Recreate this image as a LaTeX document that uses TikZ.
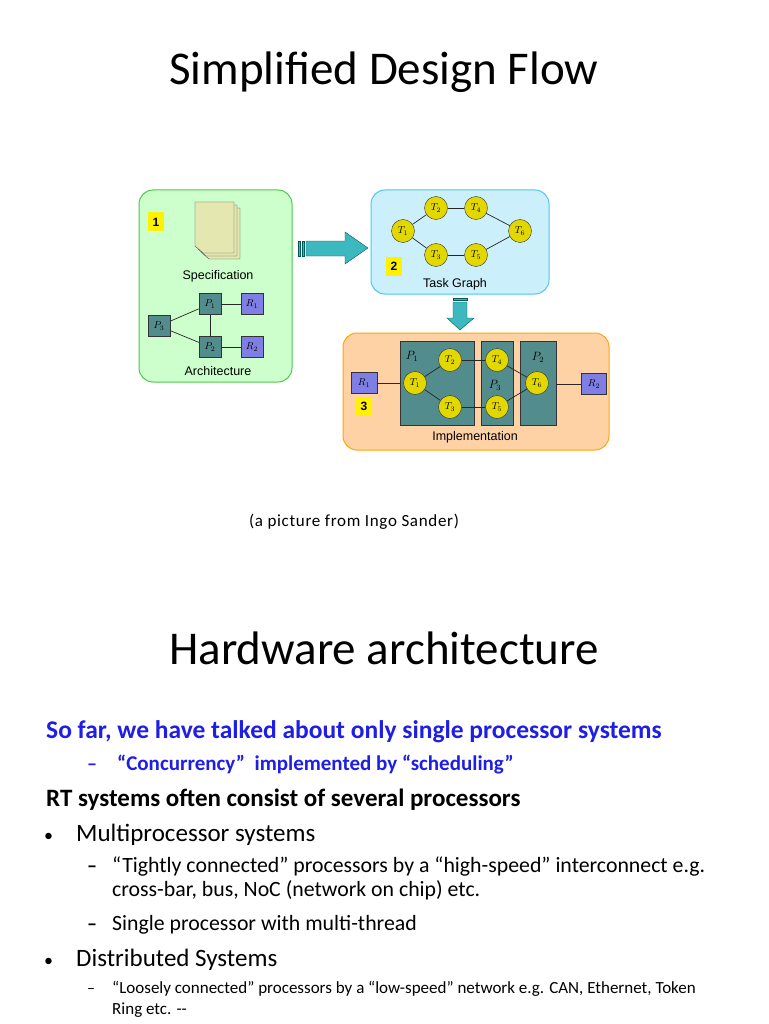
\documentclass[tikz,border=0pt]{standalone}
\usepackage{fontspec}
\setmainfont{Carlito}
\newfontfamily\arialf{Liberation Sans}
\definecolor{arrc}{RGB}{60,185,190}
\definecolor{txtblue}{RGB}{30,30,230}
\begin{document}
\begin{tikzpicture}[x=1pt,y=-1pt,
  grp/.style={rounded corners=14pt,line width=1pt},
  num/.style={fill=yellow,inner sep=0pt,minimum width=16pt,minimum height=19pt,font=\arialf\fontsize{12}{12}\selectfont\bfseries},
  pbox/.style={draw=black!80,fill=teal!50!gray!90,minimum width=22pt,minimum height=21pt,inner sep=0pt,font=\normalsize},
  rbox/.style={draw=black!80,fill=blue!45!white!90!black,minimum width=22pt,minimum height=21pt,inner sep=0pt,font=\normalsize},
  tc/.style={circle,draw=black!80,fill=yellow!75!olive,minimum size=23pt,inner sep=0pt,font=\normalsize},
  lab/.style={font=\arialf\fontsize{12.5}{13}\selectfont},
  ln/.style={draw=black!85,line width=0.7pt},
  arr/.style={fill=arrc,draw=teal!70!black,line width=0.4pt},
  body/.style={anchor=base west,inner sep=0pt}]
\useasboundingbox (0,0) rectangle (768,1024);
\fill[white] (0,0) rectangle (768,1024);
\node (t1) at (384,72) {\fontsize{47}{47}\selectfont Simplified Design Flow};
% green
\draw[grp,draw=green!70!black!70,fill=green!20] (139,190) rectangle (292,382);
\node[num] (n1) at (156,222) {1};
\foreach \d in {6,3,0}{
 \draw[fill=lime!20!yellow!25!white!90!black!95,draw=black!70] (195+\d,208+\d-6) -- (234+\d,208+\d-6) -- (234+\d,259+\d-6) -- (203+\d,259+\d-6) -- (195+\d,252+\d-6) -- cycle;}
\node[lab] (spec) at (218,276) {Specification};
\node[pbox] (aP3) at (159,326) {$P_3$};
\node[pbox] (aP1) at (210,304) {$P_1$};
\node[rbox] (aR1) at (252,304) {$R_1$};
\node[pbox] (aP2) at (210,347) {$P_2$};
\node[rbox] (aR2) at (252,347) {$R_2$};
\draw[ln] (aP3) -- (aP1); \draw[ln] (aP3) -- (aP2); \draw[ln] (aP1) -- (aP2);
\draw[ln] (aP1) -- (aR1); \draw[ln] (aP2) -- (aR2);
\node[lab] (arch) at (218,371) {Architecture};
% arrow right
\draw[arr] (298,241) rectangle (300,256);
\draw[arr] (302,241) rectangle (304,256);
\draw[arr] (306,241) -- (345,241) -- (345,232) -- (368,248) -- (345,264) -- (345,256) -- (306,256) -- cycle;
% cyan
\draw[grp,draw=cyan!70,fill=cyan!20] (371,190) rectangle (549,294);
\node[tc] (T1) at (403,231) {$T_1$};
\node[tc] (T2) at (436,208) {$T_2$};
\node[tc] (T4) at (476,208) {$T_4$};
\node[tc] (T6) at (520,231) {$T_6$};
\node[tc] (T3) at (436,255) {$T_3$};
\node[tc] (T5) at (476,255) {$T_5$};
\draw[ln] (T1) -- (T2); \draw[ln] (T2) -- (T4); \draw[ln] (T4) -- (T6);
\draw[ln] (T1) -- (T3); \draw[ln] (T3) -- (T5); \draw[ln] (T5) -- (T6);
\node[num] (n2) at (394,266) {2};
\node[lab] (tg) at (455,284) {Task Graph};
% down arrow
\draw[arr] (453,298) rectangle (467,300);
\draw[arr] (453,302) -- (467,302) -- (467,318) -- (474,318) -- (460,330) -- (447,318) -- (453,318) -- cycle;
% orange
\draw[grp,draw=orange!70!yellow,fill=orange!35] (343,333) rectangle (609,450);
\node[pbox,minimum width=74pt,minimum height=84pt] (iP1) at (437,383) {};
\node[pbox,minimum width=32pt,minimum height=84pt] (iP3) at (497,383) {};
\node[pbox,minimum width=36pt,minimum height=84pt] (iP2) at (538,383) {};
\node[rbox,minimum width=26pt] (iR1) at (364,383) {$R_1$};
\node[rbox,minimum width=25pt] (iR2) at (594,384) {$R_2$};
\node[font=\large] (lP1) at (412,356) {$P_1$};
\node[font=\large] (lP3) at (495,385) {$P_3$};
\node[font=\large] (lP2) at (538,357) {$P_2$};
\node[tc] (I2) at (450,360) {$T_2$};
\node[tc] (I1) at (415,383) {$T_1$};
\node[tc] (I3) at (450,407) {$T_3$};
\node[tc] (I4) at (497,360) {$T_4$};
\node[tc] (I5) at (497,407) {$T_5$};
\node[tc] (I6) at (537,383) {$T_6$};
\draw[ln] (I1) -- (I2); \draw[ln] (I1) -- (I3); \draw[ln] (I2) -- (I4);
\draw[ln] (I3) -- (I5); \draw[ln] (I4) -- (I6); \draw[ln] (I5) -- (I6);
\draw[ln] (iR1) -- (iP1.west|-iR1); \draw[ln] (iP2.east|-iR2) -- (iR2);
\node[num] (n3) at (364,406) {3};
\node[lab] (impl) at (475,437) {Implementation};
\node (cap) at (354,522) {\fontsize{17}{17}\addfontfeature{LetterSpace=4}\selectfont (a picture from Ingo Sander)};
\node (t2) at (384,648) {\fontsize{47}{47}\selectfont Hardware architecture};
\begin{scope}[every node/.style={body}]
\node[text=txtblue] (l1) at (46,738) {\fontsize{25.5}{25}\selectfont\bfseries So far, we have talked about only single processor systems};
\node[text=txtblue] (l2a) at (87,770) {\fontsize{20}{20}\selectfont\bfseries –};
\node[text=txtblue] (l2) at (117,770) {\fontsize{21}{21}\selectfont\bfseries “Concurrency”\ \ implemented by “scheduling”};
\node (l3) at (46,806) {\fontsize{25}{25}\selectfont\bfseries RT systems often consist of several processors};
\node (b1) at (44,841) {\fontsize{18}{18}\selectfont •};
\node (l4) at (76,841) {\fontsize{25}{25}\selectfont Multiprocessor systems};
\node (d1) at (87,872) {\fontsize{20}{20}\selectfont\bfseries –};
\node (l5) at (112,872) {\fontsize{21.8}{21}\selectfont “Tightly connected” processors by a “high-speed” interconnect e.g.};
\node (l6) at (112,896) {\fontsize{21.8}{21}\selectfont cross-bar, bus, NoC (network on chip) etc.};
\node (d2) at (87,930) {\fontsize{20}{20}\selectfont\bfseries –};
\node (l7) at (112,930) {\fontsize{21.8}{21}\selectfont Single processor with multi-thread};
\node (b2) at (44,966) {\fontsize{18}{18}\selectfont •};
\node (l8) at (76,966) {\fontsize{25}{25}\selectfont Distributed Systems};
\node (d3) at (87,993) {\fontsize{16}{16}\selectfont –};
\node (l9) at (112,993) {\fontsize{17}{17}\selectfont “Loosely connected” processors by a “low-speed” network e.g. CAN, Ethernet, Token};
\node (l10) at (112,1014) {\fontsize{17}{17}\selectfont Ring etc. {-}{-}};
\end{scope}
\end{tikzpicture}
\end{document}
